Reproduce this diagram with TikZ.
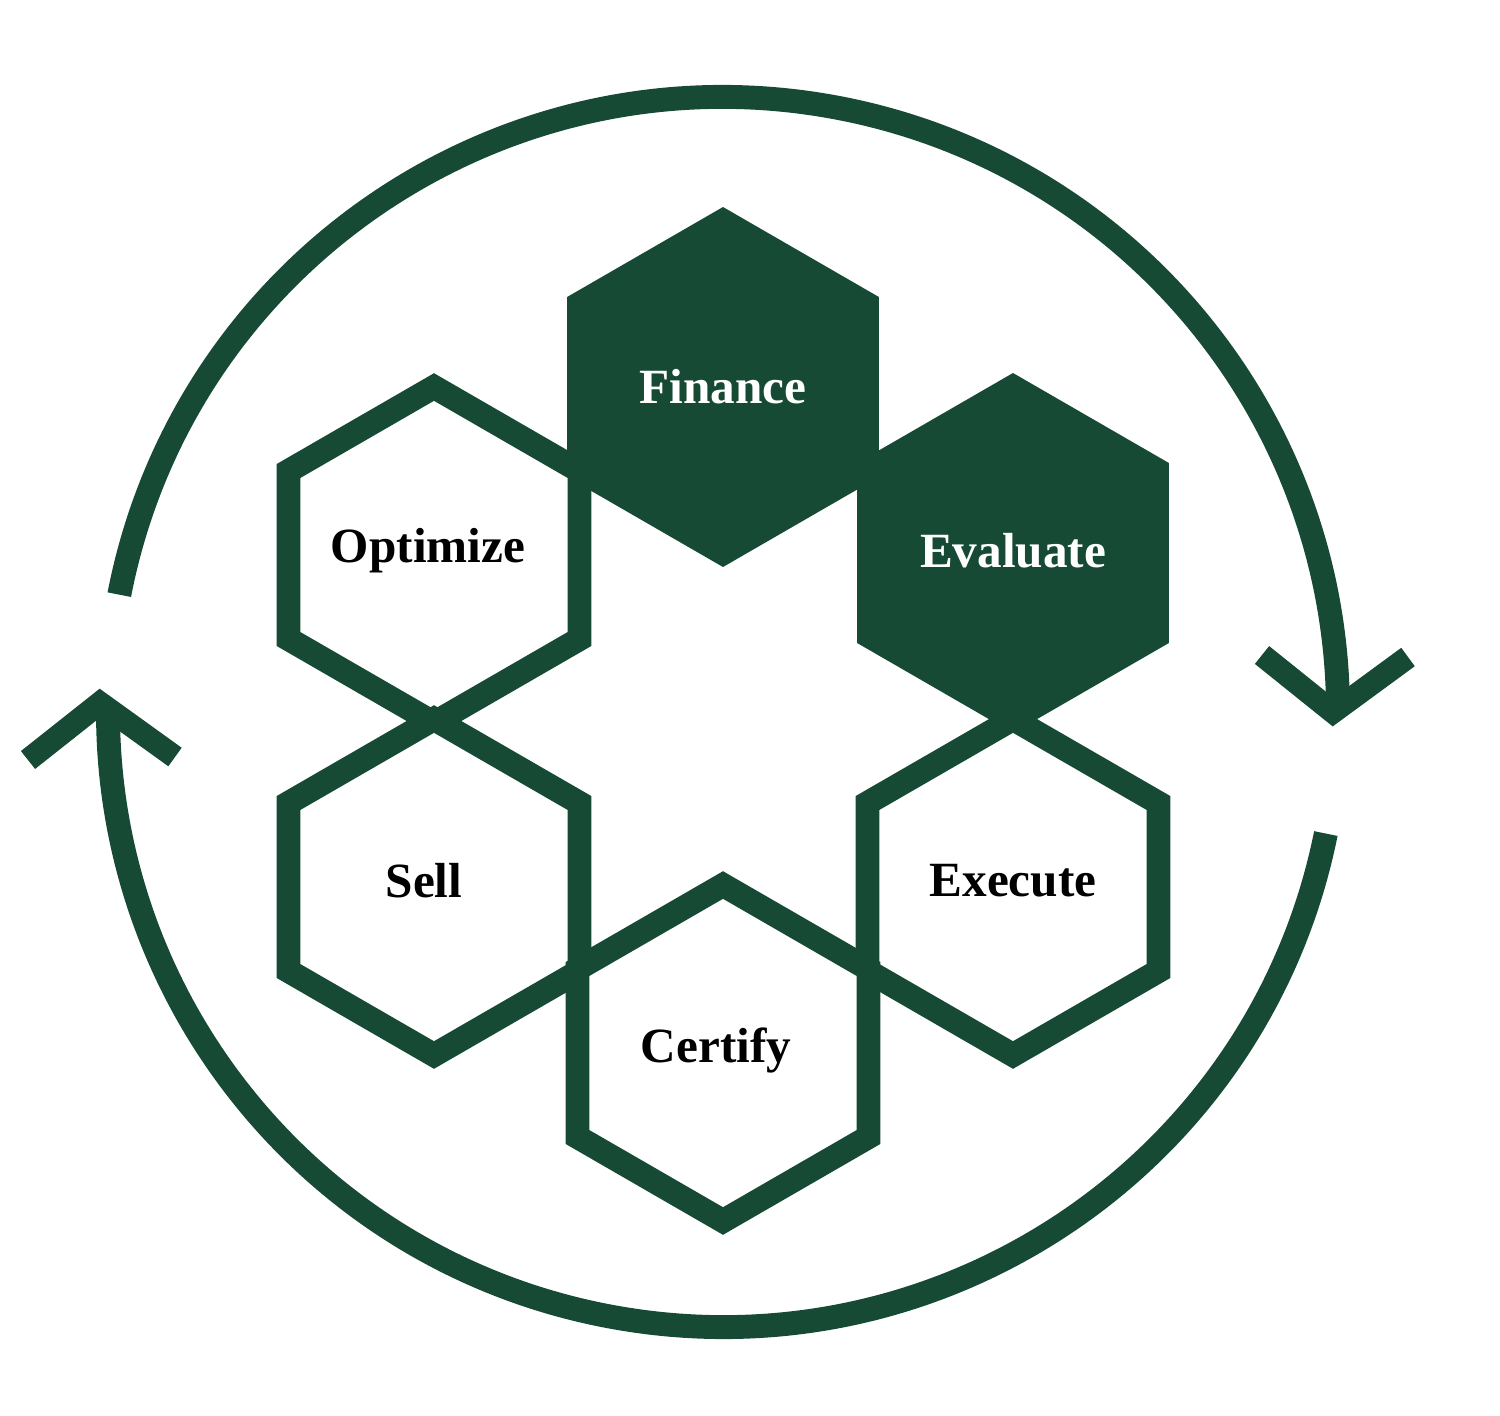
\documentclass[tikz,border=0pt]{standalone}
\usepackage{fontspec}
\setmainfont{Liberation Serif}
\definecolor{dg}{HTML}{164A35}
\begin{document}
\begin{tikzpicture}[x=0.01cm,y=-0.01cm,
  hexo/.style={draw=dg,line width=6.8pt,line join=miter,fill=white},
  hexf/.style={fill=dg},
  lab/.style={font=\fontsize{14}{16}\selectfont\bfseries},
  ring/.style={draw=dg,line width=6.8pt},
  chev/.style={draw=dg,line width=6.5pt}]
\useasboundingbox (0,0) rectangle (1500,1415);
\newcommand{\hx}[3]{ (#1,#2-#3) -- (#1+0.866*#3,#2-0.5*#3) -- (#1+0.866*#3,#2+0.5*#3) -- (#1,#2+#3) -- (#1-0.866*#3,#2+0.5*#3) -- (#1-0.866*#3,#2-0.5*#3) -- cycle}
\draw[hexo] \hx{434}{555}{168};
\draw[hexo] \hx{434}{887}{168};
\draw[hexo] \hx{1013}{887}{168};
\draw[hexo] \hx{723}{1053}{168};
\fill[hexf] \hx{1013}{553}{180};
\fill[hexf] \hx{723}{387}{180};
\node[lab,text=white] (fin) at (723,387) {Finance};
\node[lab,text=white] (eva) at (1013,551) {Evaluate};
\node[lab] (opt) at (428,551) {Optimize};
\node[lab] (sel) at (424,881) {Sell};
\node[lab] (exe) at (1013,881) {Execute};
\node[lab] (cer) at (716,1050) {Certify};
\coordinate (c) at (723,712);
\draw[ring] ([shift={(191:615)}]c) arc[start angle=191,end angle=359,radius=615];
\draw[ring] ([shift={(11.4:615)}]c) arc[start angle=11.4,end angle=180,radius=615];
\coordinate (ra) at (1333,712);
\coordinate (la) at (100,703);
\draw[chev] (1262,655) -- (ra) -- (1408,657);
\draw[chev] (28,760) -- (la) -- (175,757);
\end{tikzpicture}
\end{document}
